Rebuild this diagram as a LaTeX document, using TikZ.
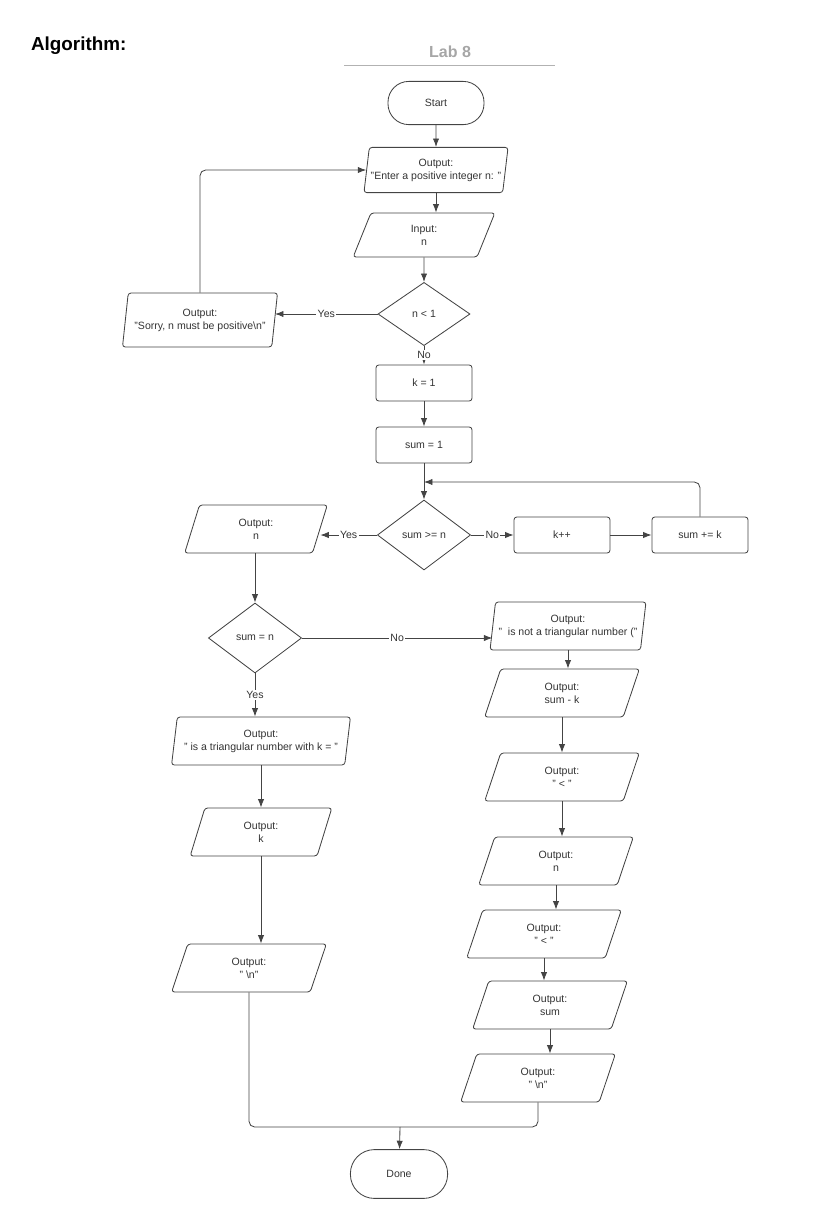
\documentclass[tikz,border=0pt]{standalone}
\usepackage{fontspec}
\setmainfont{Liberation Sans}
\usetikzlibrary{shapes.geometric,arrows.meta}
\definecolor{linha}{HTML}{444444}
\definecolor{texto}{HTML}{333333}

\begin{document}
\begin{tikzpicture}[x=0.025cm, y=-0.025cm, line width=0.6pt, >={Latex[length=6pt,width=4.5pt]},
  base/.style={draw=linha, text=texto, align=center, font=\fontsize{7.5}{9.2}\selectfont},
  saida/.style={base, trapezium, trapezium left angle=78, trapezium right angle=102,
    trapezium stretches=true, rounded corners=2pt, inner sep=1pt,
    minimum width=3.875cm, minimum height=1.2cm},
  caixa/.style={base, rectangle, rounded corners=2pt, minimum width=2.4cm, minimum height=0.9cm},
  termo/.style={base, rectangle, rounded corners=0.52cm, minimum width=2.4cm, minimum height=1.08cm},
  teste/.style={base, diamond, inner sep=1pt, minimum width=2.33cm, minimum height=1.75cm},
  rotulo/.style={fill=white, text=texto, inner sep=1pt, font=\fontsize{7.5}{9.2}\selectfont}]
\useasboundingbox (0,0) rectangle (819,1223);

%titulo
\node [anchor=west, font=\fontsize{13.4}{16}\selectfont\bfseries] (titulo) at (26,46) {Algorithm:};
\node [text=black!35, font=\fontsize{11.4}{14}\selectfont\bfseries] (lab) at (450,52) {Lab 8};
\draw [black!30] (344,65) -- (555,65);

%inicio
\node [termo] (start) at (436,103) {Start};
\node [saida, minimum width=3.55cm, minimum height=1.13cm] (out1) at (436,170) {Output:\\"Enter a positive integer n: "};
\node [saida, minimum width=3.55cm, minimum height=1.1cm] (inp) at (424,235) {Input:\\n};
\node [teste, minimum height=1.58cm, minimum width=2.3cm] (dec1) at (424,314) {n < 1};
\node [saida, minimum height=1.35cm] (sorry) at (200,320) {Output:\\"Sorry, n must be positive\textbackslash n"};

%laco da soma
\node [caixa] (k1) at (424,383) {k = 1};
\node [caixa] (s1) at (424,445) {sum = 1};
\node [teste] (dec2) at (424,535) {sum >= n};
\node [caixa] (kpp) at (562,535) {k++};
\node [caixa] (sk) at (700,535) {sum += k};
\coordinate (retorno) at (424,482);
\node [saida, minimum width=3.575cm] (outn) at (256,529) {Output:\\n};

%lado esquerdo
\node [teste] (dec3) at (255,638) {sum = n};
\node [saida, minimum width=4.475cm] (tri) at (261,741) {Output:\\" is a triangular number with k = "};
\node [saida, minimum width=3.55cm] (outk) at (261,832) {Output:\\k};
\node [saida] (nl1) at (249,968) {Output:\\" \textbackslash n"};

%lado direito
\node [saida, minimum width=3.9cm] (ntri) at (568,626) {Output:\\"\ \ is not a triangular number ("};
\node [saida] (smk) at (562,693) {Output:\\sum - k};
\node [saida] (lt1) at (562,777) {Output:\\" < "};
\node [saida] (on) at (556,861) {Output:\\n};
\node [saida] (lt2) at (544,934) {Output:\\" < "};
\node [saida] (sm) at (550,1005) {Output:\\sum};
\node [saida] (nl2) at (538,1078) {Output:\\" \textbackslash n"};

%fim
\coordinate (junta) at (400,1127);
\node [termo, minimum width=2.43cm, minimum height=1.22cm, rounded corners=0.6cm] (done) at (399,1174) {Done};

%ligacoes
\draw [linha, ->] (start) -- (out1);
\draw [linha, ->] (out1.south) -- (out1.south |- inp.north);
\draw [linha, ->] (inp) -- (dec1);
\draw [linha, ->] (dec1.west) -- node [rotulo] (yes1) {Yes} (dec1.west -| sorry.east);
\draw [linha, ->, rounded corners=4pt] (sorry.north -| sorry.center) |- (out1.west);
\draw [linha, ->] (dec1) -- node [rotulo] (no1) {No} (k1);
\draw [linha, ->] (k1) -- (s1);
\draw [linha, ->] (s1) -- (dec2);
\draw [linha, ->] (dec2.west) -- node [rotulo] (yes2) {Yes} (dec2.west -| outn.east);
\draw [linha, ->] (dec2) -- node [rotulo] (no2) {No} (kpp);
\draw [linha, ->] (kpp) -- (sk);
\draw [linha, ->, rounded corners=4pt] (sk.north) |- (retorno);
\draw [linha, ->] (outn.south -| dec3.north) -- (dec3);
\draw [linha, ->] (dec3.east) -- node [rotulo] (no3) {No} (dec3.east -| ntri.west);
\draw [linha, ->] (dec3) -- node [rotulo] (yes3) {Yes} (dec3 |- tri.north);
\draw [linha, ->] (tri.south) -- (tri.south |- outk.north);
\draw [linha, ->] (outk.south) -- (outk.south |- nl1.north);
\draw [linha, ->] (ntri.south) -- (ntri.south |- smk.north);
\draw [linha, ->] (smk.south) -- (smk.south |- lt1.north);
\draw [linha, ->] (lt1.south) -- (lt1.south |- on.north);
\draw [linha, ->] (on.south) -- (on.south |- lt2.north);
\draw [linha, ->] (lt2.south) -- (lt2.south |- sm.north);
\draw [linha, ->] (sm.south) -- (sm.south |- nl2.north);
\draw [linha, rounded corners=4pt] (nl1.south) |- (junta);
\draw [linha, rounded corners=4pt] (nl2.south) |- (junta);
\draw [linha, ->] (junta) -- (done);

\end{tikzpicture}
\end{document}
